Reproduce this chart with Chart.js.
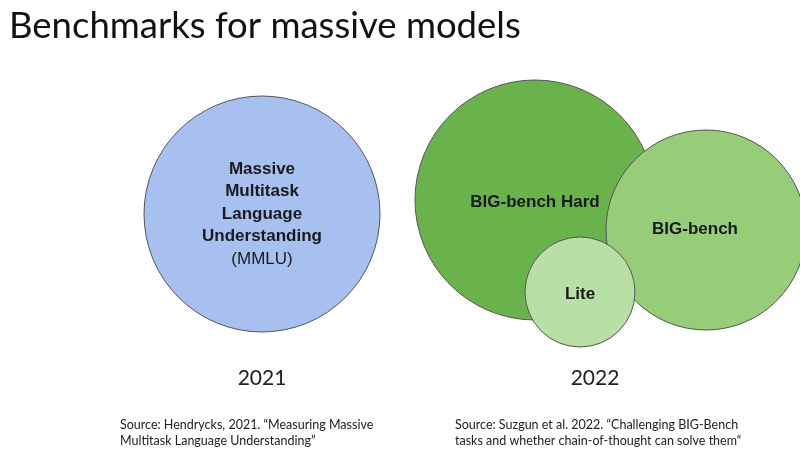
<!DOCTYPE html>
<html>
<head>
<meta charset="utf-8">
<script src="https://cdn.jsdelivr.net/npm/chart.js@4"></script>
<style>
  html, body { margin: 0; padding: 0; background: #fff; }
  #wrap { width: 800px; height: 454px; position: relative; }
</style>
</head>
<body>
<div id="wrap"><canvas id="c"></canvas></div>
<script>
// circle data (slide coordinates, radius in px)
const circleNames = ['MMLU', 'BIG-bench Hard', 'BIG-bench', 'Lite'];
const circleX = [262, 535, 706, 580];
const circleY = [214, 200, 230, 292];
const circleR = [118, 120, 100, 55];
const circleColors = ['#a7c0ef', '#6ab24c', '#97cd79', '#b8dfa6'];
const circleLabels = [
  [['Massive', true], ['Multitask', true], ['Language', true], ['Understanding', true], ['(MMLU)', false]],
  [['BIG-bench Hard', true]],
  [['BIG-bench', true]],
  [['Lite', true]]
];
const labelX = [262, 535, 695, 580];
const labelY = [214, 202, 229, 294];
const years = ['2021', '2022'];
const yearX = [262, 595];
const sources = [
  ['Source: Hendrycks, 2021. \u201cMeasuring Massive', 'Multitask Language Understanding\u201d'],
  ['Source: Suzgun et al. 2022. \u201cChallenging BIG-Bench', 'tasks and whether chain-of-thought can solve them\u201c']
];
const sourceX = [120, 455];

const textPlugin = {
  id: 'slideText',
  afterDatasetsDraw(chart) {
    const ctx = chart.ctx;
    const sx = chart.scales.x, sy = chart.scales.y;
    ctx.save();
    ctx.fillStyle = '#111';
    ctx.textBaseline = 'alphabetic';
    ctx.textAlign = 'left';
    ctx.font = '36.5px Lato';
    ctx.fillText('Benchmarks for massive models', 9, 38);

    ctx.fillStyle = '#1a1a1a';
    ctx.textAlign = 'center';
    ctx.textBaseline = 'middle';
    circleLabels.forEach((lines, i) => {
      const lh = 22.5;
      const y0 = sy.getPixelForValue(labelY[i]) - (lines.length - 1) * lh / 2;
      lines.forEach(([t, bold], j) => {
        ctx.font = (bold ? 'bold ' : '') + '17px "Liberation Sans"';
        ctx.fillText(t, sx.getPixelForValue(labelX[i]), y0 + j * lh);
      });
    });

    ctx.fillStyle = '#222';
    ctx.font = '21px Lato';
    years.forEach((t, i) => ctx.fillText(t, sx.getPixelForValue(yearX[i]), sy.getPixelForValue(378)));

    ctx.textAlign = 'left';
    ctx.font = '12.5px Lato';
    sources.forEach((lines, i) => {
      lines.forEach((t, j) => ctx.fillText(t, sourceX[i], 425 + j * 16));
    });
    ctx.restore();
  }
};

new Chart(document.getElementById('c'), {
  type: 'bubble',
  data: {
    datasets: circleNames.map((n, i) => ({
      label: n,
      data: [{ x: circleX[i], y: circleY[i], r: circleR[i] }],
      backgroundColor: circleColors[i],
      borderColor: '#555',
      borderWidth: 1,
      order: circleNames.length - i
    }))
  },
  options: {
    responsive: true,
    maintainAspectRatio: false,
    animation: false,
    layout: { padding: 0, autoPadding: false },
    clip: false,
    events: [],
    scales: {
      x: { type: 'linear', min: 0, max: 800, display: false },
      y: { type: 'linear', min: 0, max: 454, reverse: true, display: false }
    },
    plugins: { legend: { display: false }, tooltip: { enabled: false } }
  },
  plugins: [textPlugin]
});
</script>
</body>
</html>
